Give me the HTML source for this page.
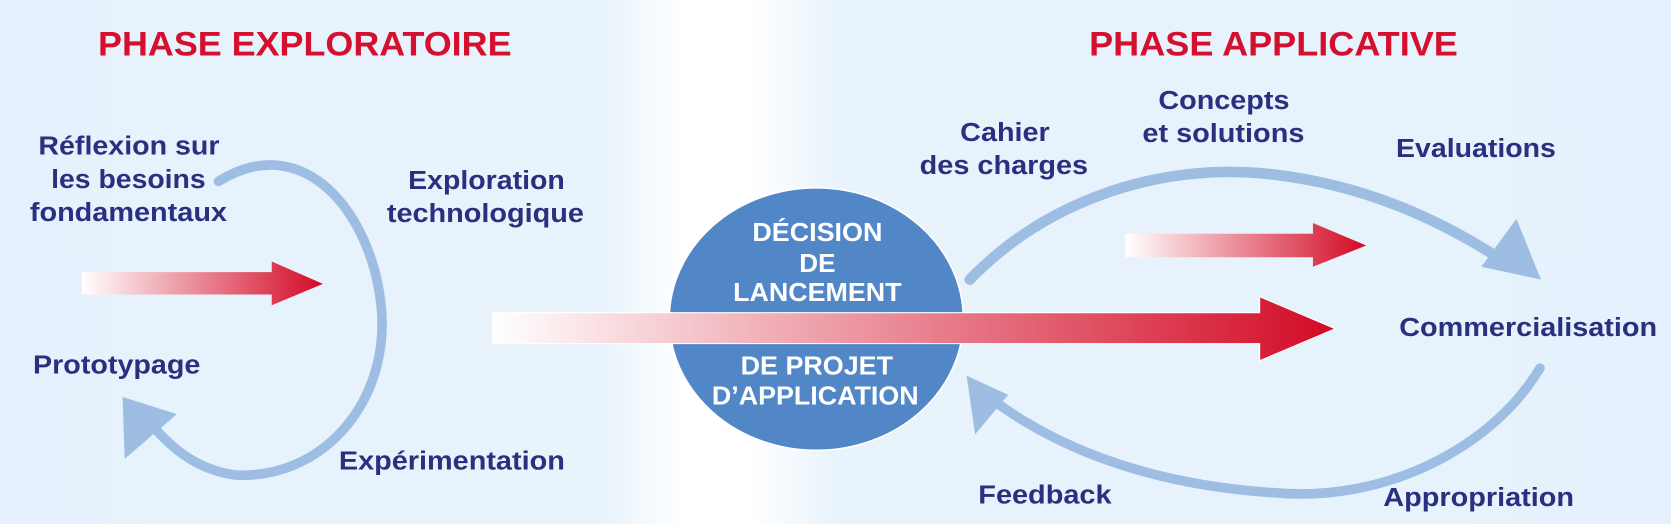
<!DOCTYPE html>
<html><head><meta charset="utf-8"><style>
html,body{margin:0;padding:0;width:1671px;height:524px;overflow:hidden}
svg{display:block}
text{font-family:"Liberation Sans",Arial,sans-serif;font-weight:bold}
.n{fill:#2b2f80;font-size:24px}
.r{fill:#d5102f;font-size:32px}
.w{fill:#fff;font-size:24px}
</style></head><body>
<svg width="1671" height="524" viewBox="0 0 1568 491" preserveAspectRatio="none">
<defs>
<linearGradient id="bg" x1="0" x2="1" y1="0" y2="0">
<stop offset="0" stop-color="#e5f1fc"/>
<stop offset="0.36" stop-color="#e8f3fc"/>
<stop offset="0.41" stop-color="#ffffff"/>
<stop offset="0.45" stop-color="#ffffff"/>
<stop offset="0.50" stop-color="#e8f3fc"/>
<stop offset="1" stop-color="#e5f1fc"/>
</linearGradient>
<linearGradient id="rg" x1="0" x2="1" y1="0" y2="0">
<stop offset="0" stop-color="#ffffff"/>
<stop offset="1" stop-color="#d30a25"/>
</linearGradient>
</defs>
<rect width="1568" height="491" fill="url(#bg)"/>

<text class="r" x="92" y="52" textLength="388" lengthAdjust="spacingAndGlyphs">PHASE EXPLORATOIRE</text>
<text class="r" x="1022" y="52" textLength="346" lengthAdjust="spacingAndGlyphs">PHASE APPLICATIVE</text>

<!-- left loop -->
<path d="M205,170 C285,120 350,200 358,290 C365,380 300,450 220,445 C185,440 160,420 140,395" fill="none" stroke="#9ebde3" stroke-width="9" stroke-linecap="round"/>
<polygon points="115,372 117,430 166,388" fill="#9ebde3"/>

<!-- ellipse -->
<ellipse cx="766" cy="299" rx="138" ry="123" fill="#5287c7" stroke="#fff" stroke-width="1.5"/>
<text class="w" x="706" y="226" textLength="122" lengthAdjust="spacingAndGlyphs">DÉCISION</text>
<text class="w" x="750" y="255" textLength="34" lengthAdjust="spacingAndGlyphs">DE</text>
<text class="w" x="688" y="282" textLength="158" lengthAdjust="spacingAndGlyphs">LANCEMENT</text>
<text class="w" x="695" y="351" textLength="143" lengthAdjust="spacingAndGlyphs">DE PROJET</text>
<text class="w" x="668" y="379" textLength="194" lengthAdjust="spacingAndGlyphs">D’APPLICATION</text>

<!-- big arrow -->
<polygon points="462,293 1182,293 1182,278 1253,308 1182,338 1182,322 462,322" fill="url(#rg)" stroke="#fff" stroke-width="1"/>
<!-- small arrows -->
<polygon points="77,255 255,255 255,245 303,266 255,286 255,276 77,276" fill="url(#rg)"/>
<polygon points="1056,219 1232,219 1232,209 1282,230 1232,250 1232,241 1056,241" fill="url(#rg)"/>

<!-- right arcs -->
<path d="M910,262 C980,190 1080,155 1180,162 C1300,172 1380,225 1420,250" fill="none" stroke="#9ebde3" stroke-width="10" stroke-linecap="round"/>
<polygon points="1423,205 1446,262 1390,250" fill="#9ebde3"/>
<path d="M1445,345 C1400,420 1300,470 1200,462 C1080,455 990,420 925,370" fill="none" stroke="#9ebde3" stroke-width="9" stroke-linecap="round"/>
<polygon points="907,352 915,407 946,370" fill="#9ebde3"/>

<g lengthAdjust="spacingAndGlyphs">
<text class="n" x="36" y="145" textLength="170" lengthAdjust="spacingAndGlyphs">Réflexion sur</text>
<text class="n" x="48" y="176" textLength="145" lengthAdjust="spacingAndGlyphs">les besoins</text>
<text class="n" x="28" y="207" textLength="185" lengthAdjust="spacingAndGlyphs">fondamentaux</text>
<text class="n" x="383" y="177" textLength="147" lengthAdjust="spacingAndGlyphs">Exploration</text>
<text class="n" x="363" y="208" textLength="185" lengthAdjust="spacingAndGlyphs">technologique</text>
<text class="n" x="901" y="132" textLength="84" lengthAdjust="spacingAndGlyphs">Cahier</text>
<text class="n" x="863" y="163" textLength="158" lengthAdjust="spacingAndGlyphs">des charges</text>
<text class="n" x="1087" y="102" textLength="123" lengthAdjust="spacingAndGlyphs">Concepts</text>
<text class="n" x="1072" y="133" textLength="152" lengthAdjust="spacingAndGlyphs">et solutions</text>
<text class="n" x="31" y="350" textLength="157" lengthAdjust="spacingAndGlyphs">Prototypage</text>
<text class="n" x="318" y="440" textLength="212" lengthAdjust="spacingAndGlyphs">Expérimentation</text>
<text class="n" x="1310" y="147" textLength="150" lengthAdjust="spacingAndGlyphs">Evaluations</text>
<text class="n" x="1313" y="315" textLength="242" lengthAdjust="spacingAndGlyphs">Commercialisation</text>
<text class="n" x="918" y="472" textLength="125" lengthAdjust="spacingAndGlyphs">Feedback</text>
<text class="n" x="1298" y="474" textLength="179" lengthAdjust="spacingAndGlyphs">Appropriation</text>
</g>
</svg>
</body></html>
